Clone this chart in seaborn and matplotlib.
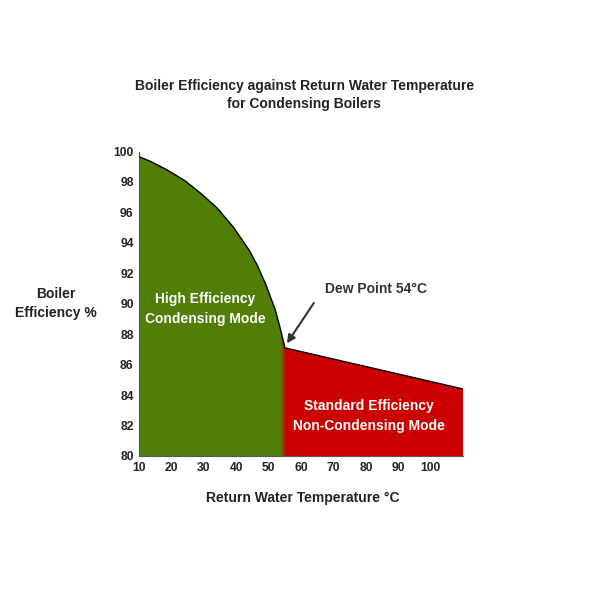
import matplotlib
matplotlib.use("Agg")
import matplotlib.pyplot as plt
from matplotlib.colors import LinearSegmentedColormap
from matplotlib.patches import Polygon
import seaborn as sns
import numpy as np
import pandas as pd

# ---- data ----
temp_condensing = [10, 13.5, 18.5, 24, 29, 34, 39, 44, 46.5, 49, 52, 53.5, 55]
eff_condensing = [99.65, 99.35, 98.8, 98.1, 97.25, 96.3, 95.05, 93.5, 92.5, 91.3, 89.6, 88.4, 87.1]
temp_noncondensing = [55, 110]
eff_noncondensing = [87.1, 84.4]
dew_point = 54
x_ticks = [10, 20, 30, 40, 50, 60, 70, 80, 90, 100]
y_ticks = [80, 82, 84, 86, 88, 90, 92, 94, 96, 98, 100]

title = "Boiler Efficiency against Return Water Temperature\nfor Condensing Boilers"
x_label = "Return Water Temperature °C"
y_label = "Boiler\nEfficiency %"
cond_label = "High Efficiency\nCondensing Mode"
noncond_label = "Standard Efficiency\nNon-Condensing Mode"
dew_label = "Dew Point 54°C"

sns.set_theme(style="white")
plt.rcParams['font.family'] = ['Liberation Sans', 'DejaVu Sans']

GREEN = "#517e08"
RED = "#cc0000"
DARK = "#222222"

fig = plt.figure(figsize=(6, 6), dpi=100)
ax = fig.add_axes([0.232, 0.24, 0.54, 0.5075])

df_c = pd.DataFrame({"t": temp_condensing, "e": eff_condensing})
df_n = pd.DataFrame({"t": temp_noncondensing, "e": eff_noncondensing})

# area under the whole efficiency curve, coloured green -> red at the dew point
outline_t = temp_condensing + temp_noncondensing[1:]
outline_e = eff_condensing + eff_noncondensing[1:]
poly_pts = [(outline_t[0], 80)] + list(zip(outline_t, outline_e)) + [(outline_t[-1], 80)]
poly = Polygon(poly_pts, closed=True, facecolor="none", edgecolor="none")
ax.add_patch(poly)

xmin, xmax = 10, 110
blend_c = dew_point + 0.5
blend = 0.9
span = xmax - xmin
cmap = LinearSegmentedColormap.from_list(
    "gr", [(0, GREEN), ((blend_c - blend - xmin) / span, GREEN),
           ((blend_c + blend - xmin) / span, RED), (1, RED)])
grad = np.linspace(0, 1, 1000).reshape(1, -1)
im = ax.imshow(grad, extent=[xmin, xmax, 80, 100], aspect="auto", cmap=cmap,
               origin="lower", zorder=1, interpolation="bilinear")
im.set_clip_path(poly)

sns.lineplot(data=df_c, x="t", y="e", color="black", linewidth=1.0, ax=ax, zorder=3)
sns.lineplot(data=df_n, x="t", y="e", color="black", linewidth=1.0, ax=ax, zorder=3)

ax.set_xlim(xmin, xmax)
ax.set_ylim(80, 100)
ax.set_xticks(x_ticks)
ax.set_yticks(y_ticks)
ax.set_xlabel("")
ax.set_ylabel("")
for s in ["top", "right"]:
    ax.spines[s].set_visible(False)
for s in ["left", "bottom"]:
    ax.spines[s].set_color("#555555")
    ax.spines[s].set_linewidth(0.8)
ax.tick_params(axis="both", labelsize=8.7, colors=DARK, length=3, width=0.8,
               direction="in", pad=4)
for lbl in ax.get_xticklabels() + ax.get_yticklabels():
    lbl.set_fontweight("bold")
    lbl.set_color(DARK)

fig.text(0.507, 0.8417, title, ha="center", va="center", fontsize=10,
         fontweight="bold", color=DARK, linespacing=1.45)
fig.text(0.505, 0.17, x_label, ha="center", va="center", fontsize=10,
         fontweight="bold", color=DARK)
fig.text(0.093, 0.494, y_label, ha="center", va="center", fontsize=10,
         fontweight="bold", color=DARK, linespacing=1.45)

ax.text(30.3, 89.65, cond_label, ha="center", va="center", fontsize=10,
        fontweight="bold", color="white", linespacing=1.55, zorder=4)
ax.text(81, 82.6, noncond_label, ha="center", va="center", fontsize=10,
        fontweight="bold", color="white", linespacing=1.55, zorder=4)
ax.text(83.2, 90.95, dew_label, ha="center", va="center", fontsize=10,
        fontweight="bold", color="#333333", zorder=5)
ax.annotate("", xy=(55.6, 87.4), xytext=(63.9, 90.05),
            arrowprops=dict(arrowstyle="-|>", color="#333333", lw=1.5,
                            shrinkA=0, shrinkB=0, mutation_scale=12),
            zorder=5)

fig.savefig("out.png", dpi=100, facecolor="white")
